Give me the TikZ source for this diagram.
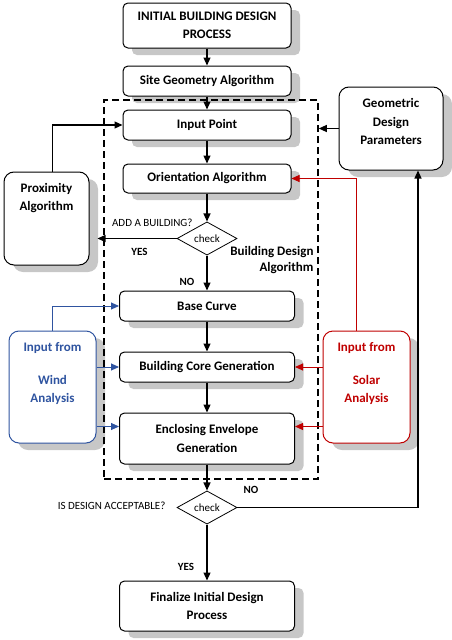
\documentclass[tikz,border=0pt]{standalone}
\usepackage{fontspec}
\setmainfont{Carlito}
\usetikzlibrary{arrows.meta,shapes.geometric,shadows}

\definecolor{windblue}{RGB}{47,84,160}
\definecolor{solarred}{RGB}{192,0,0}

\begin{document}
\begin{tikzpicture}[
        x=1pt, y=-1pt,
        every node/.style={align=center},
        box/.style={
            draw,
            fill=white,
            rounded corners=5pt,
            line width=1pt,
            minimum width=168pt,
            minimum height=30pt,
            inner sep=2pt,
            font=\fontsize{13}{18.5}\selectfont\bfseries,
            drop shadow={shadow xshift=9pt, shadow yshift=-7pt, fill=black!22, opacity=1}
        },
        widebox/.style={box, minimum width=175pt},
        sidebox/.style={box, rounded corners=10pt},
        check/.style={draw, diamond, fill=white, minimum width=60pt, minimum height=31pt,
            inner sep=0pt, line width=0.8pt, font=\fontsize{11}{13}\selectfont},
        note/.style={font=\fontsize{11}{13}\selectfont},
        yesno/.style={font=\fontsize{11}{13}\selectfont\bfseries},
        bdaframe/.style={draw, line width=1.6pt, dash pattern=on 7pt off 4pt,
            minimum width=214pt, minimum height=379pt},
        line/.style={-{Triangle[length=8pt,width=7pt]}, line width=1.2pt},
        windline/.style={line, windblue, line width=0.9pt},
        solarline/.style={line, solarred, line width=0.9pt}
    ]

        \useasboundingbox (0,0) rectangle (452,640);

        % main column
        \node[box, minimum height=45pt] (init) at (207,25.5) {INITIAL BUILDING DESIGN\\PROCESS};
        \node[box] (site) at (207,81) {Site Geometry Algorithm};
        \node[box] (input) at (207,125) {Input Point};
        \node[box, minimum height=29pt] (orient) at (207,178.5) {Orientation Algorithm};
        \node[check] (chk1) at (207,238.5) {check};
        \node[widebox] (base) at (207,306) {Base Curve};
        \node[widebox] (core) at (207,367) {Building Core Generation};
        \node[widebox, minimum height=51pt] (env) at (207,438.5) {Enclosing Envelope\\Generation};
        \node[check] (chk2) at (207,507.5) {check};
        \node[widebox, minimum height=50pt] (final) at (207,606) {Finalize Initial Design\\Process};

        % side boxes
        \node[sidebox, minimum width=104pt, minimum height=83pt, text depth=14pt] (geo) at (391,128.5) {Geometric\\Design\\Parameters};
        \node[sidebox, minimum width=85pt, minimum height=93pt, text depth=43pt] (prox) at (46.5,218.5) {Proximity\\Algorithm};
        \node[sidebox, draw=windblue, text=windblue, minimum width=87pt, minimum height=112pt, text depth=29pt] (wind) at (52.5,387) {Input from\\[14.5pt]Wind\\Analysis};
        \node[sidebox, draw=solarred, text=solarred, minimum width=87pt, minimum height=112pt, text depth=29pt] (solar) at (366.5,387) {Input from\\[14.5pt]Solar\\Analysis};

        % building design algorithm
        \node[bdaframe] (bda) at (211,289.5) {};

        % labels
        \node[note, anchor=east] (addq) at (196,223) {ADD A BUILDING?};
        \node[yesno] (yes1) at (139.5,252) {YES};
        \node[font=\fontsize{13}{16}\selectfont\bfseries, align=right, anchor=east] (bdalabel) at (317,260) {Building Design\\Algorithm};
        \node[yesno] (no1) at (187,282) {NO};
        \node[yesno] (no2) at (251,490) {NO};
        \node[note, anchor=east] (accq) at (169,506) {IS DESIGN ACCEPTABLE?};
        \node[yesno] (yes2) at (186,567) {YES};

        % connectors
        \draw[line] (init) -- (site);
        \draw[line] (site) -- (input);
        \draw[line] (input) -- (orient);
        \draw[line] (orient) -- (chk1);
        \draw[line] (chk1) -- (base);
        \draw[line] (base) -- (core);
        \draw[line] (core) -- (env);
        \draw[line] (env) -- (chk2);
        \draw[line] (chk2) -- (final);

        \draw[line, shorten >=8pt] (chk1) -- (chk1 -| prox.east);
        \draw[line] ([xshift=6pt]prox.north) |- (input.west);
        \draw[line] (geo.west) -- (geo.west -| bda.east);
        \draw[line] (chk2.east) -| ([xshift=27pt]geo.south);

        \draw[solarline] ([xshift=-10pt]solar.north) |- (orient.east);
        \draw[windline] (wind.north) |- (base.west);
        \draw[windline] (wind.east |- core) -- (core.west);
        \draw[solarline] (solar.west |- core) -- (core.east);

        \coordinate (envw) at ([yshift=12pt]env.west);
        \coordinate (enve) at ([yshift=12pt]env.east);
        \draw[windline] (wind.east |- envw) -- (envw);
        \draw[solarline] (solar.west |- enve) -- (enve);

    \end{tikzpicture}
\end{document}
